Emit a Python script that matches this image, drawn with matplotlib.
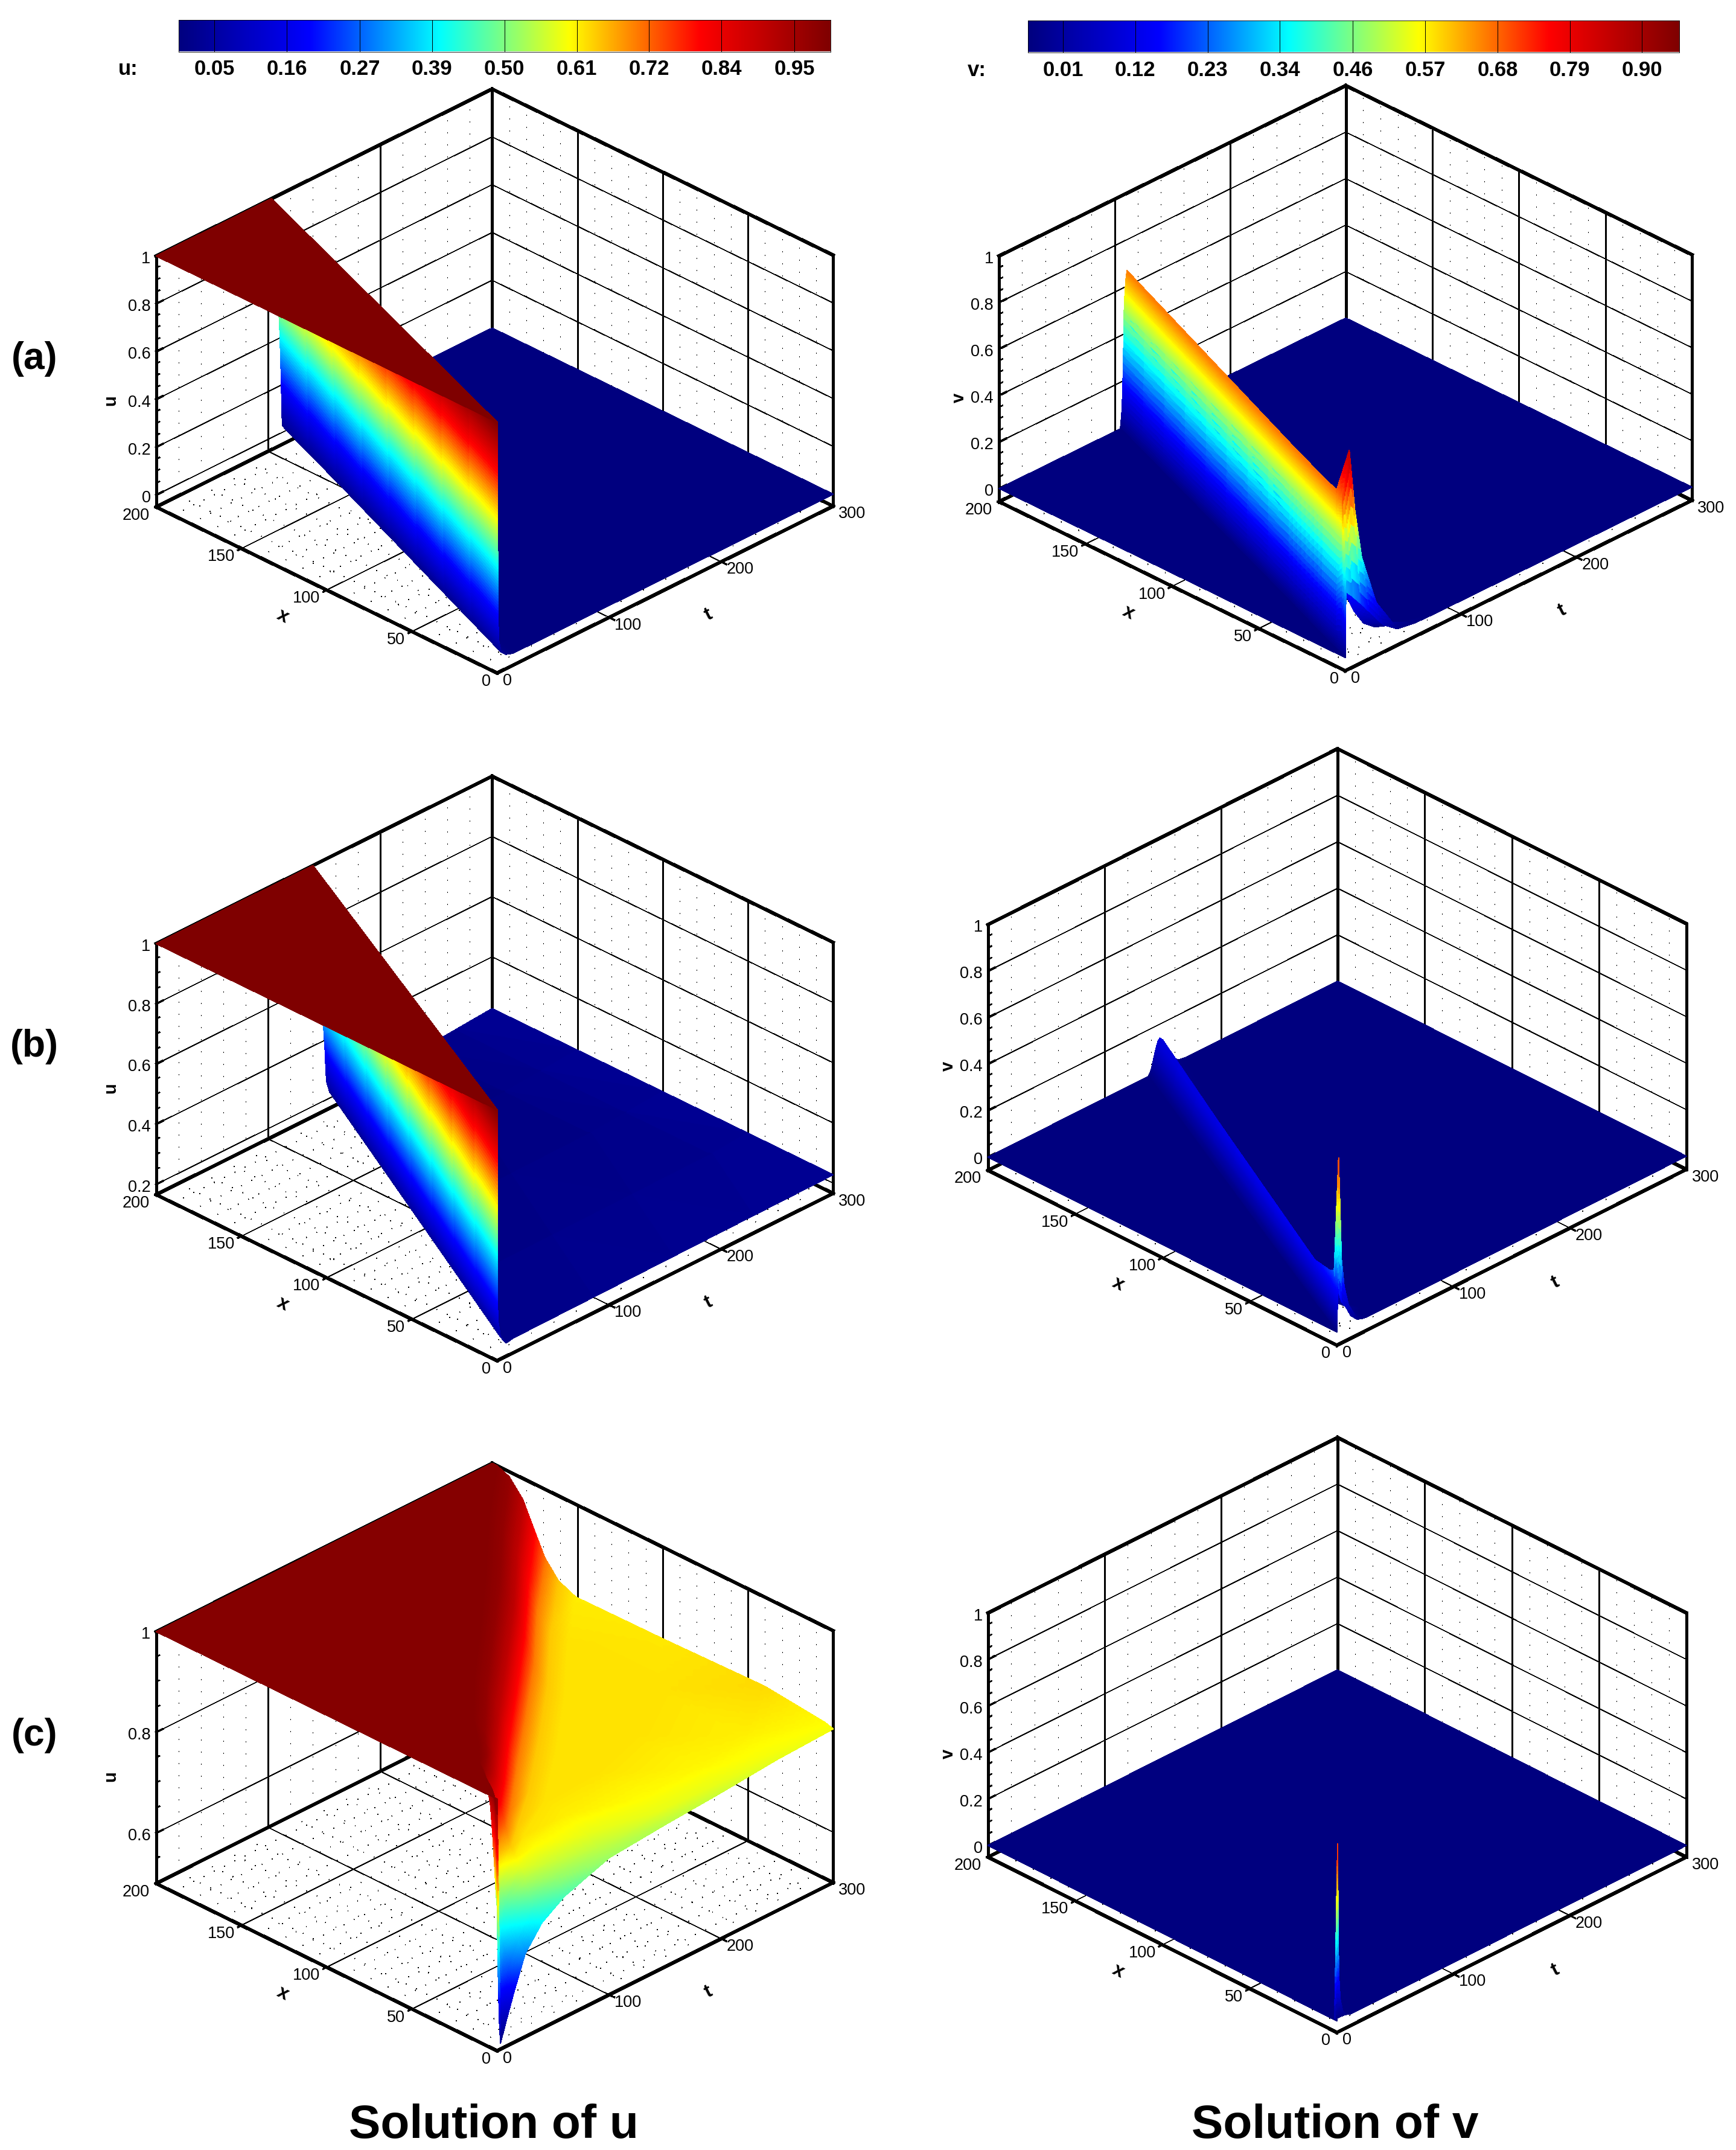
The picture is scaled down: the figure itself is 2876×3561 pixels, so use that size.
import numpy as np
import matplotlib
matplotlib.use("Agg")
import matplotlib.pyplot as plt
import matplotlib.tri as mtri
from matplotlib.colors import LinearSegmentedColormap
from mpl_toolkits.mplot3d import proj3d

W, H = 2876, 3561
plt.rcParams['font.family'] = ['Liberation Sans', 'DejaVu Sans']

# ---------- colour scale ----------
CMAP_STOPS = [0.0, 0.2, 0.4, 0.6, 0.8, 1.0]
CMAP_COLORS = ['#00007f', '#0000ff', '#00ffff', '#ffff00', '#ff0000', '#7f0000']
U_BAR_TICKS = [0.055, 0.166, 0.278, 0.389, 0.500, 0.611, 0.722, 0.833, 0.945]
U_BAR_LABELS = ['0.05', '0.16', '0.27', '0.39', '0.50', '0.61', '0.72', '0.84', '0.95']
V_BAR_TICKS = [0.010, 0.121, 0.232, 0.343, 0.455, 0.566, 0.677, 0.788, 0.899]
V_BAR_LABELS = ['0.01', '0.12', '0.23', '0.34', '0.46', '0.57', '0.68', '0.79', '0.90']

# ---------- axis ticks ----------
X_MAJOR = [50, 100, 150]
T_MAJOR = [100, 200]
X_LABELS = [0, 50, 100, 150, 200]
T_LABELS = [0, 100, 200, 300]
X_MINOR = [10, 20, 30, 40, 60, 70, 80, 90, 110, 120, 130, 140, 160, 170, 180, 190]
T_MINOR = [20, 40, 60, 80, 120, 140, 160, 180, 220, 240, 260, 280]
Z_TICKS_A = [0, 0.2, 0.4, 0.6, 0.8, 1]
Z_TICKS_B = [0.2, 0.4, 0.6, 0.8, 1]
Z_TICKS_C = [0.6, 0.8, 1]
Z_LAB_A = ['0', '0.2', '0.4', '0.6', '0.8', '1']
Z_LAB_B = ['0.2', '0.4', '0.6', '0.8', '1']
Z_LAB_C = ['0.6', '0.8', '1']
Z_MINOR_A = [0.05, 0.1, 0.15, 0.25, 0.3, 0.35, 0.45, 0.5, 0.55, 0.65, 0.7, 0.75, 0.85, 0.9, 0.95]
Z_MINOR_B = [0.25, 0.3, 0.35, 0.45, 0.5, 0.55, 0.65, 0.7, 0.75, 0.85, 0.9, 0.95]
Z_MINOR_C = [0.5, 0.55, 0.65, 0.7, 0.75, 0.85, 0.9, 0.95]

# ---------- panel (a) u: wave front ----------
AU_X = [0, 200]
AU_T = [[0, .05, .1, .15, .2, .3, .4, .5, .6, .75, .95, 1.5, 3.5, 8, 14],
        [103, 104, 104.8, 105.8, 107, 108, 109.2, 110.3, 111, 111.6, 112.1, 112.4, 112.8, 115, 119]]
AU_Z = [[1, .97, .92, .85, .75, .65, .55, .45, .35, .25, .15, .08, .03, .01, 0],
        [1, .97, .92, .85, .75, .65, .55, .45, .35, .25, .15, .08, .03, .01, 0]]
AU_REAR = 0.0

# ---------- panel (b) u ----------
BU_X = [0, 200]
BU_T = [[0, .03, .06, .1, .14, .2, .26, .32, .38, .42, .5, 1, 3, 8, 14],
        [140, 141.2, 142.4, 143.8, 145.2, 146.5, 148, 149, 150, 150.8, 151.5, 152.2, 155, 162, 172]]
BU_Z = [[1, .97, .92, .85, .75, .65, .55, .48, .42, .37, .33, .29, .24, .21, .215],
        [1, .97, .92, .85, .75, .65, .55, .48, .42, .37, .31, .26, .22, .195, .19]]
BU_REAR = 0.228

# ---------- panel (c) u: rows of t, columns of x ----------
CU_T = [0, 3, 8, 15, 25, 40, 60, 100, 150, 200, 250, 300]
CU_X = [[0, .2, .4, .6, .8, .9, 1, 1.2, 1.4, 1.6, 2, 200],
        [0, .6, 1.2, 1.6, 2, 2.2, 2.4, 2.7, 3.1, 3.5, 4, 200],
        [0, 1, 2.5, 4, 5, 5.5, 6, 6.7, 7.4, 8, 9, 200],
        [0, 3, 6, 8, 9.5, 10.5, 11.3, 12.6, 14, 15.5, 17, 200],
        [0, 4, 8, 12, 14.5, 15.7, 17, 19, 22, 24.5, 27, 200],
        [0, 5, 10, 13.6, 16, 18.5, 21.5, 24.5, 29, 33, 37, 200],
        [0, 5, 10, 18, 24, 28, 32, 35.5, 41, 47, 53, 200],
        [0, 5, 12, 25, 38, 47, 54.5, 59, 65, 72, 79, 200],
        [0, 4.3, 15, 40, 64, 74, 82, 87, 93.5, 101, 108, 200],
        [0, 3, 15, 50, 92, 102, 110, 115.5, 122, 130, 138, 200],
        [0, 3, 20, 70, 123, 133, 141, 146, 153, 161, 169, 200],
        [0, 5, 40, 99, 151, 161, 169, 175, 182, 190, 197, 200]]
CU_Z = [[1, 1, 1, 1, 1, 1, 1, 1, 1, 1, 1, 1],
        [.512, .55, .62, .70, .80, .85, .88, .94, .985, .995, 1, 1],
        [.55, .59, .64, .68, .76, .82, .87, .93, .98, .995, 1, 1],
        [.60, .645, .68, .70, .74, .78, .83, .90, .96, .99, 1, 1],
        [.665, .69, .72, .75, .78, .80, .84, .90, .96, .99, 1, 1],
        [.71, .74, .78, .80, .815, .83, .86, .905, .958, .99, 1, 1],
        [.74, .77, .79, .81, .82, .83, .86, .905, .958, .99, 1, 1],
        [.772, .785, .80, .815, .82, .83, .86, .905, .958, .99, 1, 1],
        [.782, .80, .81, .82, .82, .83, .86, .905, .958, .99, 1, 1],
        [.79, .80, .812, .82, .82, .83, .86, .905, .958, .99, 1, 1],
        [.80, .805, .815, .82, .82, .83, .86, .905, .958, .99, 1, 1],
        [.805, .81, .823, .818, .816, .831, .863, .906, .958, .99, 1, 1]]

# ---------- panel (a) v ----------
AV_X = [0, 3, 8, 20, 50, 200]
AV_T = [[0, .05, .1, .15, .2, .4, 1, 6, 13.4, 21, 33, 45, 60, 75],
        [1.5, 1.6, 1.7, 1.75, 1.8, 1.9, 2.2, 8, 12.9, 17.9, 25.4, 37.7, 50, 62],
        [4, 4.1, 4.2, 4.3, 4.35, 4.4, 4.6, 7, 10, 14, 20, 28, 38, 50],
        [10, 10.3, 10.5, 10.7, 10.8, 10.9, 11.07, 11.8, 14, 18, 24, 32, 42, 55],
        [26.3, 26.5, 26.7, 26.9, 27.1, 27.3, 27.7, 28.5, 30, 33, 37, 42, 48, 55],
        [105, 106.5, 107.5, 108.3, 109, 109.8, 110.7, 112, 114, 117, 120, 124, 130, 138]]
AV_Z = [[0, .02, .05, .1, .15, .22, .28, .25, .2, .146, .06, .014, .002, 0],
        [0, .1, .3, .5, .6, .7, .72, .86, .586, .388, .2, .05, .01, 0],
        [0, .08, .25, .5, .58, .63, .68, .6, .42, .25, .12, .05, .01, 0],
        [0, .08, .25, .5, .58, .63, .675, .6, .42, .3, .2, .14, .07, 0],
        [0, .08, .25, .5, .58, .63, .67, .6, .42, .2, .08, .03, .005, 0],
        [0, .08, .25, .5, .58, .63, .667, .6, .42, .2, .08, .03, .005, 0]]

# ---------- panel (b) v ----------
BV_X = [0, .6, 3, 8, 25, 200]
BV_T = [[0, .1, .2, .3, .5, .9, 2, 4, 8, 12, 17.6, 25],
        [.4, .45, .5, .55, .6, .7, 2.35, 4.8, 7, 9.6, 14, 22],
        [1.9, 2, 2.05, 2.1, 2.15, 2.2, 2.6, 5, 8, 12, 16, 24],
        [5.4, 5.5, 5.6, 5.7, 5.8, 5.9, 6.1, 8, 12.8, 17, 21, 30],
        [17, 17.3, 17.6, 17.9, 18.2, 18.4, 18.8, 19.3, 20, 21, 22.5, 25],
        [137.8, 140, 142, 144, 146, 147.5, 150, 153, 156, 160, 164, 170]]
BV_Z = [[0, .02, .05, .08, .13, .18, .16, .12, .085, .04, .01, 0],
        [0, .05, .12, .2, .28, .34, .74, .3, .18, .1, .03, 0],
        [0, .03, .1, .16, .22, .25, .22, .17, .13, .085, .03, 0],
        [0, .03, .08, .14, .2, .22, .2, .15, .12, .06, .025, 0],
        [0, .025, .07, .12, .155, .17, .15, .1, .06, .025, .006, 0],
        [0, .02, .06, .10, .13, .14, .125, .08, .05, .02, .005, 0]]

# ---------- panel (c) v ----------
CV_X = [0, 1.5, 200]
CV_T = [[0, .1, .3, .6, .9, 1.3, 2, 3, 5, 8, 12],
        [0, .1, .3, .6, .9, 1.3, 2, 3, 5, 8, 12],
        [0, .1, .3, .6, .9, 1.3, 2, 3, 5, 8, 12]]
CV_Z = [[0, .2, .5, .76, .55, .3, .15, .08, .03, .008, 0],
        [0, 0, 0, 0, 0, 0, 0, 0, 0, 0, 0],
        [0, 0, 0, 0, 0, 0, 0, 0, 0, 0, 0]]

# ---------- figure ----------
fig = plt.figure(figsize=(W / 100, H / 100), dpi=100, facecolor='white')
cmap = LinearSegmentedColormap.from_list('tec', list(zip(CMAP_STOPS, CMAP_COLORS)), N=512)


def ftext(px, py, s, **kw):
    kw.setdefault('ha', 'center')
    kw.setdefault('va', 'center')
    fig.text(px / W, 1 - py / H, s, **kw)


def rect_for(left_px, top_px, side):
    return [left_px / W, 1 - (top_px + side) / H, side / W, side / H]


def view_params(F, L, R, LT):
    ex = (L[0] - F[0], -(L[1] - F[1]))
    et = (R[0] - F[0], -(R[1] - F[1]))
    ez = -(LT[1] - L[1])
    s = np.sqrt(et[1] * ex[1] / (et[0] * (-ex[0])))
    az = np.arctan2((-ex[0]) * s, ex[1])
    a = -ex[0] / np.sin(az)
    b = et[0] / np.cos(az)
    el = np.arcsin(s)
    c = ez / np.cos(el)
    return np.degrees(el), -90 - np.degrees(az), (b, a, c)


class Panel:
    def __init__(self, F, L, R, LT, zmin):
        self.F, self.L, self.R, self.LT, self.zmin = F, L, R, LT, zmin
        el, azim, aspect = view_params(F, L, R, LT)
        ax = fig.add_axes(rect_for(0, 2000, 1000), projection='3d', computed_zorder=False)
        ax.set_proj_type('ortho')
        ax.view_init(elev=el, azim=azim)
        ax.set_box_aspect(aspect)
        ax.set_xlim(0, 300)
        ax.set_ylim(0, 200)
        ax.set_zlim(zmin, 1)
        ax.set_axis_off()
        ax.patch.set_alpha(0)
        self.ax = ax
        ax.apply_aspect()
        p0 = self.px(0, 0, zmin)
        p1 = self.px(300, 0, zmin)
        k = (R[0] - F[0]) / (p1[0] - p0[0])
        side = 1000 * k
        ax.set_position(rect_for(0, 2000, side))
        ax.apply_aspect()
        p0 = self.px(0, 0, zmin)
        ax.set_position(rect_for(F[0] - p0[0], 2000 + F[1] - p0[1], side))
        ax.apply_aspect()

    def px(self, t, x, z):
        xs, ys, _ = proj3d.proj_transform(t, x, z, self.ax.get_proj())
        d = self.ax.transData.transform((xs, ys))
        return d[0], H - d[1]

    def line(self, ts, xs, zs, lw, ls='-', z=0):
        art, = self.ax.plot(ts, xs, zs, color='black', lw=lw, ls=ls, zorder=z, antialiased=False)
        art.set_clip_on(False)

    def frame(self, zt, zlab, zminor, var):
        z0 = self.zmin
        dots = (0, (2, 22))
        floor_dots = (0, (1.5, 30))
        for t in T_MINOR:
            self.line([t, t], [200, 200], [z0, 1], .6, dots)
            self.line([t, t], [0, 200], [z0, z0], .45, floor_dots)
        for x in X_MINOR:
            self.line([300, 300], [x, x], [z0, 1], .6, dots)
            self.line([0, 300], [x, x], [z0, z0], .45, floor_dots)
        for t in T_MAJOR:
            self.line([t, t], [200, 200], [z0, 1], .8)
            self.line([t, t], [0, 200], [z0, z0], .5)
            self.line([t, t], [0, -3], [z0, z0], 1.6)
        for x in X_MAJOR:
            self.line([300, 300], [x, x], [z0, 1], .8)
            self.line([0, 300], [x, x], [z0, z0], .5)
            self.line([0, -3], [x, x], [z0, z0], 1.6)
        for v in zt:
            self.line([0, 300], [200, 200], [v, v], .5)
            self.line([300, 300], [200, 0], [v, v], .5)
            self.line([0, 6], [200, 200], [v, v], 1.8)
        for v in zminor:
            self.line([0, 3], [200, 200], [v, v], 1.1)
        th = 3.4
        self.line([0, 0], [200, 200], [z0, 1], th)
        self.line([300, 300], [200, 200], [z0, 1], th)
        self.line([300, 300], [0, 0], [z0, 1], th)
        self.line([0, 300], [200, 200], [1, 1], th)
        self.line([300, 300], [200, 0], [1, 1], th)
        self.line([0, 300], [200, 200], [z0, z0], th)
        self.line([300, 300], [200, 0], [z0, z0], th)
        self.line([0, 300], [0, 0], [z0, z0], th)
        self.line([0, 0], [0, 200], [z0, z0], th)
        fs = 19.5
        for v, s in zip(zt, zlab):
            p = self.px(0, 200, v)
            ftext(p[0] - 9, p[1] + 5, s, ha='right', fontsize=fs)
        for v in X_LABELS:
            p = self.px(0, v, z0)
            ftext(p[0] - 11, p[1] + 14, str(v), ha='right', fontsize=fs)
        for v in T_LABELS:
            p = self.px(v, 0, z0)
            ftext(p[0] + 9, p[1] + 13, str(v), ha='left', fontsize=fs)
        F, L, R, LT = self.F, self.L, self.R, self.LT
        ftext(L[0] + (-75 if var == 'u' else -66), (LT[1] + L[1]) / 2 + 31, var,
              rotation=90, fontsize=21, fontweight='bold')
        ftext((L[0] + F[0]) / 2 - 73, (L[1] + F[1]) / 2 + 44, 'x', rotation=-27,
              fontsize=23, fontweight='bold')
        ftext((R[0] + F[0]) / 2 + 72, (R[1] + F[1]) / 2 + 42, 't', rotation=27,
              fontsize=23, fontweight='bold')

    def surf(self, T, X, Z, vmin, vmax, z, subdiv=3):
        T, X, Z = np.asarray(T, float), np.asarray(X, float), np.asarray(Z, float)
        n, m = T.shape
        uu, vv = np.meshgrid(np.arange(m, dtype=float), np.arange(n, dtype=float))
        tris = []
        for i in range(n - 1):
            for j in range(m - 1):
                a = i * m + j
                tris += [[a, a + 1, a + m], [a + 1, a + m + 1, a + m]]
        tri = mtri.Triangulation(uu.ravel(), vv.ravel(), np.array(tris))
        ref = mtri.UniformTriRefiner(tri)

        def fine(f):
            f = f.ravel()
            return ref.refine_field(f, triinterpolator=mtri.LinearTriInterpolator(tri, f), subdiv=subdiv)
        rt, rT = fine(T)
        _, rX = fine(X)
        _, rZ = fine(Z)
        poly = self.ax.plot_trisurf(rT, rX, rZ, triangles=rt.triangles, cmap=cmap, vmin=vmin, vmax=vmax,
                                    linewidth=0.7, antialiased=False, zorder=z)
        poly.set_edgecolor('face')
        poly.set_clip_on(False)

    def wave(self, xs, T, Z, rear, vmin, vmax):
        xs = np.asarray(xs, float)
        T, Z = np.asarray(T, float), np.asarray(Z, float)
        Xg = np.repeat(xs[:, None], T.shape[1], axis=1)
        X2 = np.repeat(xs[:, None], 2, axis=1)
        # rear floor behind the wave, wave itself, then the part ahead of the wave
        Tr = np.column_stack([T[:, -1], np.full(len(xs), 300.0)])
        Zr = np.column_stack([Z[:, -1], np.full(len(xs), rear)])
        self.surf(Tr, X2, Zr, vmin, vmax, 5, subdiv=2)
        self.surf(T, Xg, Z, vmin, vmax, 6)
        Tf = np.column_stack([np.zeros(len(xs)), T[:, 0]])
        Zf = np.column_stack([Z[:, 0], Z[:, 0]])
        self.surf(Tf, X2, Zf, vmin, vmax, 7, subdiv=1)

    def finish(self):
        self.ax.set_xlim(0, 300)
        self.ax.set_ylim(0, 200)
        self.ax.set_zlim(self.zmin, 1)


# panels --------------------------------------------------------------
pa = Panel((823.6, 1114.8), (258.6, 839.7), (1380.3, 838.3), (258.6, 424), -0.05)
pa.frame(Z_TICKS_A, Z_LAB_A, Z_MINOR_A, 'u')
pa.wave(AU_X, AU_T, AU_Z, AU_REAR, 0, 1)
pa.finish()

pb = Panel((823.6, 2253.8), (258.6, 1978.7), (1380.3, 1976.6), (258.6, 1562.9), 0.166)
pb.frame(Z_TICKS_B, Z_LAB_B, Z_MINOR_B, 'u')
pb.wave(BU_X, BU_T, BU_Z, BU_REAR, 0.2, 1)
pb.finish()

pc = Panel((823.6, 3396.8), (258.6, 3119.6), (1380.3, 3118.1), (258.6, 2702.4), 0.5)
pc.frame(Z_TICKS_C, Z_LAB_C, Z_MINOR_C, 'u')
cu_t = np.repeat(np.asarray(CU_T, float)[:, None], len(CU_X[0]), axis=1)
pc.surf(cu_t, CU_X, CU_Z, 0.515, 1.005, 6, subdiv=4)
pc.finish()

qa = Panel((2228.6, 1111), (1655.1, 831), (2803, 828.8), (1655.1, 424), -0.057)
qa.frame(Z_TICKS_A, Z_LAB_A, Z_MINOR_A, 'v')
qa.wave(AV_X, AV_T, AV_Z, 0, 0, 0.95)
qa.finish()

qb = Panel((2214.8, 2228.1), (1636.8, 1938.4), (2793.8, 1936.9), (1636.8, 1531.4), -0.057)
qb.frame(Z_TICKS_A, Z_LAB_A, Z_MINOR_A, 'v')
qb.wave(BV_X, BV_T, BV_Z, 0, 0, 0.95)
qb.finish()

qc = Panel((2214.8, 3366.3), (1636.8, 3075.8), (2793.8, 3075.8), (1636.8, 2671.5), -0.05)
qc.frame(Z_TICKS_A, Z_LAB_A, Z_MINOR_A, 'v')
qc.wave(CV_X, CV_T, CV_Z, 0, 0, 0.95)
qc.finish()


# colour bars ---------------------------------------------------------
def colorbar(left, right, top, bottom, lo, hi, ticks, labels, name, name_x, lab_y):
    ax = fig.add_axes([left / W, 1 - bottom / H, (right - left) / W, (bottom - top) / H])
    ax.imshow(np.arange(512)[None, :], cmap=cmap, aspect='auto', extent=[lo, hi, 0, 1])
    ax.vlines(ticks, 0, 1, color='black', lw=0.55, antialiased=False)
    ax.set_xticks([])
    ax.set_yticks([])
    for s in ax.spines.values():
        s.set_linewidth(0.6)
    for t, s in zip(ticks, labels):
        px = left + (t - lo) / (hi - lo) * (right - left)
        ftext(px, lab_y, s, fontsize=25, fontweight='bold')
    ftext(name_x, lab_y, name, fontsize=25, fontweight='bold')


colorbar(296, 1375.5, 33, 85.5, 0, 1, U_BAR_TICKS, U_BAR_LABELS, 'u:', 212, 115)
colorbar(1702.7, 2782, 34, 86.5, -0.044, 0.956, V_BAR_TICKS, V_BAR_LABELS, 'v:', 1618, 116)

# captions --------------------------------------------------------------
for s, y in zip(['(a)', '(b)', '(c)'], [595, 1734, 2874]):
    ftext(57, y, s, fontsize=45, fontweight='bold')
ftext(818, 3520, 'Solution of u', fontsize=56.5, fontweight='bold')
ftext(2212, 3520, 'Solution of v', fontsize=56.5, fontweight='bold')

fig.savefig('out.png', dpi=100, facecolor='white')
